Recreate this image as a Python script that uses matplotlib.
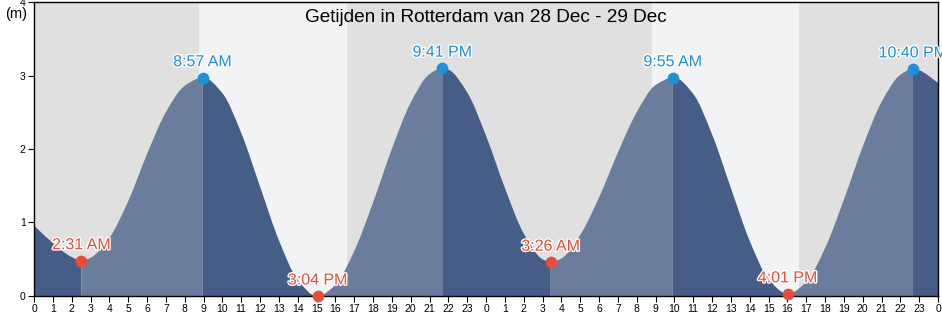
import numpy as np
import matplotlib.pyplot as plt
import matplotlib.patheffects as pe
from matplotlib.path import Path
from matplotlib.patches import PathPatch

plt.rcParams['font.family'] = ['Liberation Sans', 'DejaVu Sans']

# hourly water level (m), 0..48 h from 28 Dec 00:00
hours = list(range(49))
levels = [0.96, 0.72, 0.53, 0.52, 0.79, 1.29, 1.93, 2.50, 2.86,
          2.97, 2.76, 2.22, 1.49, 0.76, 0.22, 0.00, 0.15, 0.61,
          1.27, 2.00, 2.63, 3.02, 3.08, 2.77, 2.18, 1.47, 0.85,
          0.50, 0.51, 0.83, 1.34, 1.95, 2.50, 2.87, 2.97, 2.75,
          2.20, 1.47, 0.75, 0.23, 0.03, 0.19, 0.65, 1.31, 2.03,
          2.64, 3.01, 3.07, 2.90]

# high / low water
ext_times = [2.517, 8.95, 15.067, 21.683, 27.433, 33.917, 40.017, 46.667]
ext_levels = [0.48, 2.97, 0.00, 3.10, 0.46, 2.97, 0.03, 3.09]
ext_labels = ['2:31 AM', '8:57 AM', '3:04 PM', '9:41 PM',
              '3:26 AM', '9:55 AM', '4:01 PM', '10:40 PM']
ext_high = [False, True, False, True, False, True, False, True]

# daylight (sunrise, sunset) in hours
daylight = [(8.78, 16.6), (32.8, 40.62)]

tick_labels = [str(h % 24) for h in hours]

t = np.array(hours + ext_times, dtype=float)
y = np.array(levels + ext_levels, dtype=float)
order = np.argsort(t)
t, y = t[order], y[order]


def slopes(x, v):
    # monotone (Fritsch-Carlson) tangents so the drawn line is smooth
    h = np.diff(x)
    d = np.diff(v) / h
    m = np.zeros_like(v)
    m[0], m[-1] = d[0], d[-1]
    for k in range(1, len(v) - 1):
        if d[k - 1] * d[k] > 0:
            w1 = 2 * h[k] + h[k - 1]
            w2 = h[k] + 2 * h[k - 1]
            m[k] = (w1 + w2) / (w1 / d[k - 1] + w2 / d[k])
    return m


m = slopes(t, y)


def area_path(i0, i1):
    verts = [(t[i0], 0), (t[i0], y[i0])]
    codes = [Path.MOVETO, Path.LINETO]
    for k in range(i0, i1):
        h = t[k + 1] - t[k]
        verts += [(t[k] + h / 3, y[k] + m[k] * h / 3),
                  (t[k + 1] - h / 3, y[k + 1] - m[k + 1] * h / 3),
                  (t[k + 1], y[k + 1])]
        codes += [Path.CURVE4] * 3
    verts += [(t[i1], 0), (t[i0], 0)]
    codes += [Path.LINETO, Path.CLOSEPOLY]
    return Path(verts, codes)


fig = plt.figure(figsize=(9.42, 3.18), dpi=100)
ax = fig.add_axes([0.0361, 0.0692, 0.9597, 0.9245])
ax.set_facecolor('#e0e0e0')
for a, b in daylight:
    ax.axvspan(a, b, color='#f2f3f5', zorder=0, lw=0)

# rising vs falling fill
edges = [0.0] + ext_times + [48.0]
for i in range(len(edges) - 1):
    i0 = int(np.argmin(abs(t - edges[i])))
    i1 = int(np.argmin(abs(t - edges[i + 1])))
    rising = i > 0 and not ext_high[i - 1]
    ax.add_patch(PathPatch(area_path(i0, i1), lw=0, zorder=1,
                           facecolor='#6a7d9c' if rising else '#455d87'))

for tt, lv, lab, hi in zip(ext_times, ext_levels, ext_labels, ext_high):
    c = '#1f8fd6' if hi else '#e74c3c'
    ax.scatter([tt], [lv], s=55, color=c, zorder=3, clip_on=False)
    txt = ax.annotate(lab, (tt, lv), xytext=(0, 11.5), textcoords='offset points',
                      ha='center', va='center', color=c, fontsize=11.5, zorder=4,
                      annotation_clip=False)
    txt.set_clip_on(True)
    txt.set_path_effects([pe.withStroke(linewidth=2, foreground='white')])

ax.set_xlim(0, 48)
ax.set_ylim(0, 4)
ax.set_xticks(hours)
ax.set_xticklabels(tick_labels)
ax.set_yticks([0, 1, 2, 3, 4])
ax.tick_params(labelsize=7.5, length=4, width=0.8, colors='black', pad=2)
for s in ax.spines.values():
    s.set_color('black')
    s.set_linewidth(1)

fig.text(0.005, 0.955, '(m)', fontsize=10.5, ha='left', va='center')
ax.text(0.5, 0.946, 'Getijden in Rotterdam van 28 Dec - 29 Dec', fontsize=13.7,
        ha='center', va='center', transform=ax.transAxes)

fig.savefig('out.png', dpi=100)
